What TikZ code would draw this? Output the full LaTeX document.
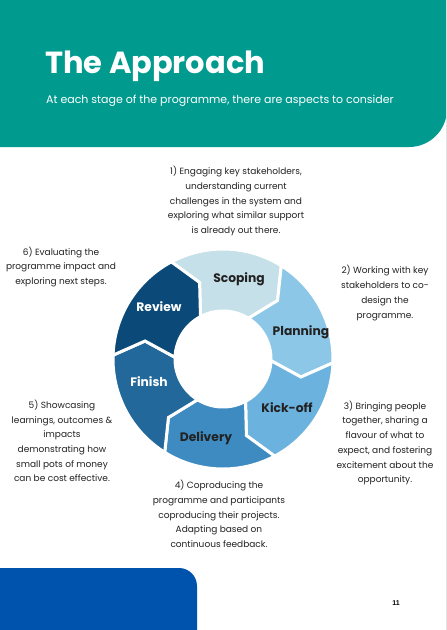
\documentclass[tikz,border=0pt]{standalone}
\usepackage{fontspec}
\setmainfont{Poppins}
\newfontfamily\numfont{Liberation Sans}
\definecolor{headteal}{HTML}{009B8E}
\definecolor{footblue}{HTML}{0053AC}
\definecolor{cScoping}{HTML}{C6E0EA}
\definecolor{cPlanning}{HTML}{8CC7E7}
\definecolor{cKick}{HTML}{6BB2DE}
\definecolor{cDelivery}{HTML}{3E8BC1}
\definecolor{cFinish}{HTML}{23689A}
\definecolor{cReview}{HTML}{0B4A78}
\definecolor{txt}{HTML}{222222}
\tikzset{
  bodytext/.style={text=txt, align=center, inner sep=0pt, font=\fontsize{9}{14.7}\selectfont},
  seglabel/.style={font=\bfseries\fontsize{12.3}{14}\selectfont, inner sep=0pt},
  segshape/.style={draw=white, line width=3pt, line join=miter}
}
\newcommand{\cycseg}[2]{%
  \filldraw[segshape, fill=#2] ({#1}:110) arc[start angle={#1}, end angle={#1-60}, radius=110]
    -- ({#1-71}:80) -- ({#1-60}:48) arc[start angle={#1-60}, end angle={#1}, radius=48]
    -- ({#1-11}:80) -- cycle;}
\begin{document}
\begin{tikzpicture}[x=1pt,y=-1pt]
\useasboundingbox (0,0) rectangle (447,630);
\fill[white] (0,0) rectangle (447,630);
% header
\fill[headteal] (0,0) -- (447,0) -- (447,109) arc[start angle=0, end angle=90, radius=38] -- (0,147) -- cycle;
\node[anchor=base west, text=white, inner sep=0pt, font=\bfseries\fontsize{30.5}{34}\selectfont] (title) at (45,73) {The Approach};
\node[anchor=base west, text=white, inner sep=0pt, font=\fontsize{11}{13}\selectfont] (subtitle) at (46,103) {At each stage of the programme, there are aspects to consider};
% footer
\fill[footblue] (0,568) -- (179,568) arc[start angle=-90, end angle=0, radius=18] -- (197,630) -- (0,630) -- cycle;
\node[font=\numfont\bfseries\fontsize{7}{8}\selectfont, inner sep=0pt] (pagenum) at (396,603) {11};
\draw[black!12, line width=1.2pt] (446.4,0) -- (446.4,630);
% cycle
\begin{scope}[shift={(223,359)}, yscale=-1]
  \cycseg{118}{cScoping}
  \cycseg{58}{cPlanning}
  \cycseg{-2}{cKick}
  \cycseg{-62}{cDelivery}
  \cycseg{-122}{cFinish}
  \cycseg{-182}{cReview}
\end{scope}
\node[seglabel, text=txt] (scoping) at (239,279) {Scoping};
\node[seglabel, text=txt] (planning) at (301,332) {Planning};
\node[seglabel, text=txt] (kickoff) at (287,408) {Kick-off};
\node[seglabel, text=txt] (delivery) at (206,438) {Delivery};
\node[seglabel, text=white] (finish) at (149,382) {Finish};
\node[seglabel, text=white] (review) at (159,307) {Review};
% descriptions
\node[bodytext] (d1) at (236,201) {1) Engaging key stakeholders,\\understanding current\\challenges in the system and\\exploring what similar support\\is already out there.};
\node[bodytext] (d2) at (385,293) {2) Working with key\\stakeholders to co-\\design the\\programme.};
\node[bodytext] (d3) at (385,443) {3) Bringing people\\together, sharing a\\flavour of what to\\expect, and fostering\\excitement about the\\opportunity.};
\node[bodytext] (d4) at (219,514) {4) Coproducing the\\programme and participants\\coproducing their projects.\\Adapting based on\\continuous feedback.};
\node[bodytext] (d5) at (62,441) {5) Showcasing\\learnings, outcomes \&\\impacts\\demonstrating how\\small pots of money\\can be cost effective.};
\node[bodytext] (d6) at (61,267) {6) Evaluating the\\programme impact and\\exploring next steps.};
\end{tikzpicture}
\end{document}
